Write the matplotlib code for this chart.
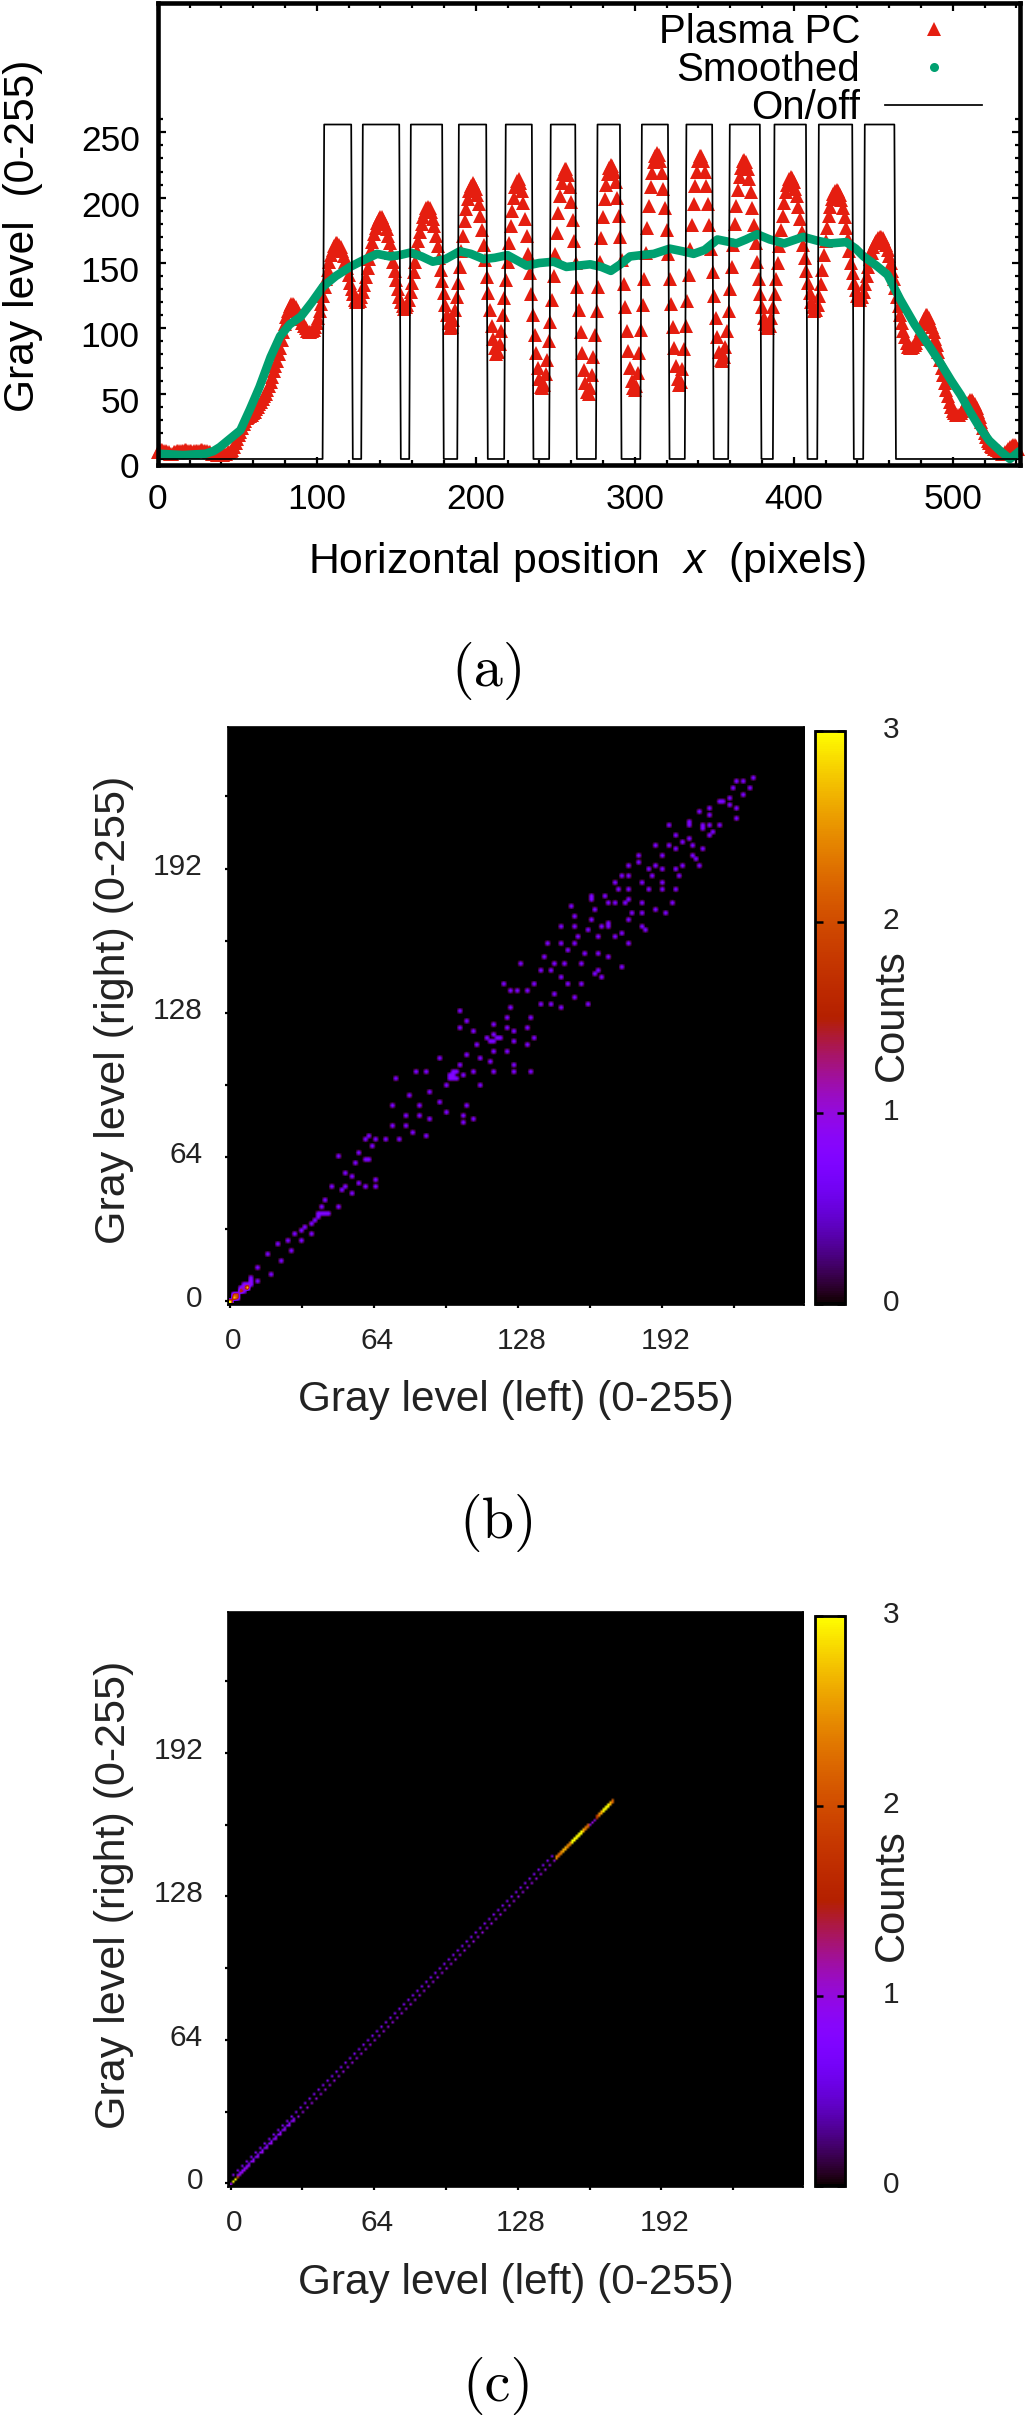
import numpy as np
import matplotlib
matplotlib.use("Agg")
import matplotlib.pyplot as plt
from matplotlib.ticker import MultipleLocator, FixedLocator
from matplotlib.transforms import ScaledTranslation

FIG_W = 1025
FIG_H = 2416

# (a) gray level along the horizontal cut, one value per pixel from x = 0
plasma_gray = [
    5, 6, 7, 7, 6, 6, 5, 5, 4, 4, 5, 5, 6, 6, 6, 6, 6, 7, 7, 6,
    6, 6, 5, 6, 6, 6, 6, 7, 7, 6, 6, 6, 5, 5, 4, 4, 4, 3, 3, 3,
    3, 3, 4, 4, 5, 5, 6, 7, 9, 12, 15, 18, 21, 24, 27, 29, 31, 32, 33, 34,
    35, 36, 38, 40, 42, 44, 46, 48, 50, 53, 56, 59, 63, 67, 71, 75, 80, 85, 91, 97,
    103, 109, 113, 117, 119, 119, 118, 116, 113, 110, 107, 104, 102, 100, 98, 97, 97,
    98, 99, 101, 104, 108, 113, 119, 125, 132, 138, 145, 151, 156, 160, 163, 165,
    165, 164, 162, 159, 155, 151, 146, 141, 135, 130, 126, 122, 120,
    120, 121, 124, 128, 133, 139, 146, 153, 160, 166, 172, 177, 181, 184, 185,
    185, 183, 180, 176, 171, 165, 158, 151, 144, 137, 130, 124, 120, 117, 115,
    116, 118, 122, 128, 135, 143, 151, 159, 167, 174, 180, 185, 189, 192, 193,
    192, 189, 184, 178, 171, 163, 154, 145, 136, 127, 118, 110, 104, 100,
    101, 106, 114, 124, 135, 147, 159, 171, 182, 191, 199, 205, 209, 211,
    210, 207, 202, 195, 186, 175, 164, 152, 139, 127, 114, 102, 92, 85, 80,
    82, 88, 98, 110, 123, 137, 151, 165, 178, 190, 200, 208, 213, 214,
    211, 205, 196, 184, 171, 157, 142, 126, 110, 95, 81, 70, 61, 55, 54,
    57, 65, 76, 90, 105, 122, 140, 157, 173, 188, 201, 211, 218, 222,
    222, 217, 208, 197, 183, 167, 150, 132, 114, 97, 81, 68, 58, 51, 50,
    54, 64, 78, 95, 113, 132, 151, 169, 185, 199, 210, 218, 223, 225,
    224, 220, 212, 200, 186, 170, 152, 134, 116, 98, 83, 70, 60, 54, 53,
    56, 66, 81, 99, 118, 138, 158, 177, 194, 208, 219, 227, 232, 234,
    233, 228, 219, 207, 192, 175, 157, 138, 119, 101, 85, 71, 61, 57,
    59, 69, 84, 102, 121, 141, 161, 179, 195, 209, 220, 228, 232, 232,
    228, 220, 209, 195, 179, 161, 143, 125, 108, 93, 82, 76, 75,
    78, 86, 98, 113, 130, 147, 164, 180, 194, 206, 216, 223, 228, 229,
    227, 222, 214, 204, 192, 179, 165, 151, 138, 126, 116, 108, 103, 100, 100,
    102, 108, 116, 126, 138, 150, 163, 175, 186, 196, 204, 210, 214, 216,
    215, 212, 207, 201, 193, 184, 174, 164, 154, 144, 135, 127, 120, 116, 113,
    114, 118, 125, 134, 145, 156, 167, 177, 186, 193, 199, 203, 205, 206,
    205, 202, 198, 192, 185, 177, 168, 159, 150, 142, 135, 129, 125, 123, 122,
    124, 128, 134, 140, 147, 153, 158, 162, 165, 167, 169, 170, 170,
    169, 167, 164, 160, 155, 150, 144, 138, 131, 124, 117, 110, 104, 98, 93, 89, 86, 85,
    85, 86, 87, 89, 92, 95, 99, 103, 107, 110,
    110, 108, 105, 101, 97, 92, 87, 82, 76, 70, 64, 58, 53, 48, 44, 40, 37, 35, 34, 34,
    34, 35, 37, 39, 41, 43, 44, 45, 45, 44, 42, 39, 36, 32, 28, 24, 20, 17, 14, 12,
    10, 9, 8, 8, 7, 6, 5, 4, 4, 5, 6, 8, 9, 10, 11, 11, 10, 8,
]

smooth_x = [1, 16, 30, 35, 39, 43, 47, 52, 58, 64, 71, 77, 83, 90, 97, 104, 112, 121, 129, 138, 146, 152, 159,
            166, 173, 181, 190, 197, 205, 212, 220, 226, 232, 240, 249, 257, 272, 279, 285, 291, 297, 304, 312,
            322, 330, 337, 344, 352, 364, 370, 377, 385, 394, 406, 415, 423, 433, 439, 444, 452, 459, 467, 476,
            486, 493, 499, 505, 511, 517, 523, 530, 536, 542]
smooth_y = [4, 3, 4, 6, 9, 13, 17, 22, 38, 55, 78, 94, 103, 109, 120, 132, 140, 147, 152, 157, 155, 156, 158,
            155, 151, 153, 159, 157, 153, 154, 156, 152, 148, 150, 151, 147, 149, 147, 144, 149, 155, 156, 157,
            161, 159, 157, 160, 168, 165, 168, 172, 168, 165, 170, 167, 165, 166, 161, 155, 148, 141, 122, 103,
            85, 72, 60, 49, 36, 24, 14, 6, 0, 6]

onoff_rise = [104.2, 128.5, 158.7, 188.9, 218.4, 246.7, 276.1, 304.0, 332.0, 359.3, 387.4, 415.3, 444.2]
onoff_fall = [122.2, 152.4, 179.4, 207.1, 235.8, 263.1, 291.2, 321.4, 349.2, 379.2, 408.2, 437.3, 463.8]
onoff_high = 256
onoff_end = 540

# (b) left/right histogram cells holding one count
b_cells = [
    (13, 10), (9, 11), (19, 13), (12, 16), (23, 18), (17, 21), (28, 23), (21, 26), (32, 27), (26, 28),
    (29, 31), (37, 31), (32, 32), (34, 34), (36, 35), (38, 37), (39, 39), (40, 40), (42, 39), (44, 39),
    (41, 42), (40, 38), (39, 40), (41, 40), (43, 45), (49, 43), (46, 51), (50, 50), (54, 49), (52, 52),
    (51, 58), (54, 56), (55, 56), (57, 53), (56, 62), (60, 52), (65, 52), (65, 54), (60, 64), (62, 64),
    (58, 67), (64, 69), (49, 65), (60, 72), (62, 74), (65, 73),
    (69, 72), (76, 72), (88, 74), (82, 76), (72, 79), (79, 79), (89, 82), (84, 83), (72, 87), (79, 83),
    (85, 88), (94, 89), (97, 85), (104, 83), (104, 80), (106, 87), (108, 82), (80, 92), (89, 94), (74, 100),
    (83, 103), (88, 102), (93, 109), (97, 96), (98, 100), (100, 102), (102, 105), (101, 99), (104, 101),
    (109, 102), (112, 96), (106, 110), (111, 108), (116, 107), (118, 103), (126, 105), (126, 103), (134, 103),
    (117, 111), (123, 111), (132, 115), (136, 117), (110, 115), (115, 117), (118, 119), (120, 117), (126, 116),
    (109, 121), (102, 122), (118, 124), (123, 122), (126, 121), (134, 126), (133, 122), (103, 129), (105, 125),
    (125, 131), (123, 127), (122, 142), (132, 138), (125, 138), (128, 138), (130, 151), (136, 142),
    (99, 100), (100, 101), (101, 102), (100, 99), (98, 101), (116, 116), (119, 118), (117, 119), (118, 116),
    (115, 118),
    (138, 133), (147, 131), (145, 137), (159, 133), (154, 135), (143, 132), (138, 147), (143, 148), (140, 153),
    (145, 151), (149, 150), (156, 150), (150, 156), (158, 155), (164, 155), (168, 154), (164, 147), (165, 144),
    (175, 149), (142, 160), (154, 159), (155, 162), (147, 159), (164, 163), (172, 162), (175, 164), (178, 159),
    (148, 167), (153, 167), (159, 166), (168, 167), (161, 170), (178, 170), (185, 165), (184, 167), (153, 172),
    (179, 173), (152, 176), (162, 174), (171, 177), (168, 178), (161, 179), (161, 181), (172, 178), (176, 178),
    (178, 179), (184, 178), (184, 173), (189, 175), (194, 173), (197, 178), (167, 181), (173, 183), (178, 184),
    (186, 183), (192, 183), (198, 183), (171, 187), (178, 190), (184, 187), (193, 187), (200, 189), (175, 190),
    (177, 194), (186, 192), (188, 190), (189, 194), (192, 192), (199, 192), (201, 194), (182, 199), (182, 195),
    (190, 203), (195, 203), (192, 198), (198, 201), (209, 194), (207, 197), (206, 199), (206, 203), (210, 201),
    (202, 204), (204, 206), (195, 212), (199, 208), (210, 210), (214, 207), (215, 209), (213, 212), (211, 212),
    (218, 212), (204, 212), (205, 214), (209, 218), (214, 220), (213, 216), (218, 222), (222, 224), (223, 221),
    (226, 220), (226, 215), (220, 222), (224, 229), (229, 226), (231, 229), (229, 232), (233, 233), (226, 232),
    (147, 144), (151, 142), (156, 142), (163, 146), (166, 167), (169, 168),
]
b_cell_level = 0.8
# cells near the dark end, with their counts
b_low_cells = [(1, 1), (2, 2), (3, 3), (2, 3), (3, 2), (4, 4), (5, 5), (5, 6), (6, 5), (6, 6),
               (7, 7), (8, 7), (8, 8), (7, 8), (9, 9), (6, 8), (9, 8)]
b_low_counts = [3, 3, 2, 2, 2, 2, 2, 1, 1, 1, 1, 3, 1, 1, 1, 1, 1]

# (c) two close diagonals of single counts, then the saturated stretch near the top
c_main = [0, 2, 4, 6, 8, 10, 12, 14, 16, 18, 20, 22, 24, 26, 28, 30, 32, 34, 36, 38, 40, 42, 44, 46, 48,
          50, 52, 54, 56, 58, 60, 62, 64, 66, 68, 70, 72, 74, 76, 78, 80, 82, 84, 86, 88, 90, 92, 94, 96,
          98, 100, 102, 104, 106, 108, 110, 112, 114, 116, 118, 120, 122, 124, 126, 128, 130, 132, 134,
          136, 138, 140, 142, 144, 160, 161, 162]
c_side = [1, 3, 5, 7, 9, 11, 13, 15, 17, 19, 21, 23, 25, 27, 29, 31, 33, 35, 37, 39, 41, 43, 45, 47, 49,
          51, 53, 55, 57, 59, 61, 63, 65, 67, 69, 71, 73, 75, 77, 79, 81, 83, 85, 87, 89, 91, 93, 95, 97,
          99, 101, 103, 105, 107, 109, 111, 113, 115, 117, 119, 121, 123, 125, 127, 129, 131, 133, 135,
          137, 139, 141, 143]
c_hot = [145, 146, 147, 148, 149, 150, 151, 152, 153, 154, 155, 156, 157, 158, 159, 163, 164, 165, 166, 167,
         168, 169, 170]
c_hot_counts = [2.4, 2.2, 2.4, 2.6, 2.6, 2.4, 2.4, 3, 3, 3, 3, 3, 2.6, 2.3, 2.2, 1.8, 2.4, 2.6, 3, 3, 3, 2.6, 2.2]
c_low = [1, 2, 3, 4, 5, 6, 7]
c_low_counts = [3, 3, 2, 1, 1, 1, 1]
# the diagonals merge into one broad band near the dark end
c_band = [3, 4, 5, 6, 7, 8, 9, 10, 11, 12, 13, 14, 15, 16, 17, 18, 19, 20, 21, 22, 23, 24, 25, 26, 27, 28]
c_band_level = 0.75

RED = "#e51e10"
GREEN = "#00a070"
SANS = ["Liberation Sans", "DejaVu Sans"]

plt.rcParams["font.family"] = SANS
plt.rcParams["mathtext.fontset"] = "custom"
plt.rcParams["mathtext.it"] = "Liberation Sans:italic"
plt.rcParams["mathtext.rm"] = "Liberation Sans"

fig = plt.figure(figsize=(FIG_W / 100, FIG_H / 100), dpi=100, facecolor="white")


def px_axes(left, top, right, bottom):
    """Axes placed by pixel edges, measured from the top left of the figure."""
    return fig.add_axes([left / FIG_W, 1 - bottom / FIG_H, (right - left) / FIG_W, (bottom - top) / FIG_H])


def px_text(x, y, s, **kw):
    kw.setdefault("ha", "center")
    kw.setdefault("va", "center")
    return fig.text(x / FIG_W, 1 - y / FIG_H, s, **kw)


def shift_labels(labels, dx, dy):
    offset = ScaledTranslation(dx / 100, dy / 100, fig.dpi_scale_trans)
    for lab in labels:
        lab.set_transform(lab.get_transform() + offset)


def draw_profile():
    ax = px_axes(157.7, 3, 1019.5, 465)
    x_plasma = np.arange(len(plasma_gray))
    ax.plot(x_plasma, plasma_gray, ls="none", marker="^", ms=9.4, mew=0, color=RED, zorder=2,
            clip_on=False, label="Plasma PC")
    ax.plot(smooth_x, smooth_y, color=GREEN, lw=6.2, solid_joinstyle="round", solid_capstyle="round", zorder=3)
    ax.plot([], [], ls="none", marker="o", ms=6.5, mew=0, color=GREEN, label="Smoothed")

    # square wave of the on/off pattern, each edge one pixel wide
    wave_x = [0]
    wave_y = [0]
    for rise, fall in zip(onoff_rise, onoff_fall):
        wave_x += [rise - 0.5, rise + 0.5, fall - 0.5, fall + 0.5]
        wave_y += [0, onoff_high, onoff_high, 0]
    wave_x.append(onoff_end)
    wave_y.append(0)
    ax.plot(wave_x, wave_y, color="black", lw=1.25, zorder=4, label="On/off")

    ax.set_xlim(0, 542)
    ax.set_ylim(-4.6, 349)
    ax.xaxis.set_major_locator(MultipleLocator(100))
    ax.xaxis.set_minor_locator(MultipleLocator(20))
    ax.yaxis.set_major_locator(FixedLocator([0, 50, 100, 150, 200, 250]))
    ax.yaxis.set_minor_locator(FixedLocator([10, 20, 30, 40, 60, 70, 80, 90, 110, 120, 130, 140, 160, 170, 180,
                                             190, 210, 220, 230, 240, 260]))
    ax.tick_params(which="both", direction="in", top=True, right=True, width=1.6)
    ax.tick_params(which="major", length=6, labelsize=25.5)
    ax.tick_params(which="minor", length=3.5)
    ax.tick_params(axis="y", which="major", pad=13)
    ax.tick_params(axis="x", which="major", pad=13)
    for spine in ax.spines.values():
        spine.set_linewidth(3.3)
        spine.set_zorder(5)
    fig.canvas.draw()
    shift_labels(ax.get_yticklabels(), 0, -6)

    ax.legend(loc="upper right", frameon=False, markerfirst=False, fontsize=29, handlelength=2.4,
              handletextpad=0.62, labelspacing=0.0, borderaxespad=0.0, borderpad=0.0,
              bbox_to_anchor=((982 - 157.7) / (1019.5 - 157.7), 1.0 - 10 / 462))

    px_text(23, 236, "Gray level  (0-255)", rotation=90, fontsize=30.7)
    px_text(587, 562, "Horizontal position  $x$  (pixels)", fontsize=30.8)
    px_text(489, 671, "(a)", family="cmr10", fontsize=42)


def draw_histogram(left, top, right, bottom, cbar_top, counts, xlab_y, ylab_y, cnt_y, caption, caption_y):
    ax = px_axes(left, top, right, bottom)
    ax.set_facecolor("black")
    im = ax.imshow(counts, origin="lower", extent=(-0.5, 255.5, -0.5, 255.5), cmap="gnuplot", vmin=0, vmax=3,
                   interpolation="bilinear", aspect="auto")
    ax.set_xlim(-1.2, 255.2)
    ax.set_ylim(-1.6, 254.8)
    ax.xaxis.set_major_locator(MultipleLocator(64))
    ax.xaxis.set_minor_locator(MultipleLocator(32))
    ax.yaxis.set_major_locator(MultipleLocator(64))
    ax.yaxis.set_minor_locator(MultipleLocator(32))
    ax.set_xticks([0, 64, 128, 192])
    ax.set_yticks([0, 64, 128, 192])
    ax.tick_params(which="both", direction="out", length=2, width=1.6, color="black")
    ax.tick_params(axis="x", which="major", labelsize=21.5, pad=14, labelcolor="#222222")
    ax.tick_params(axis="y", which="major", labelsize=21.5, pad=16, labelcolor="#222222")
    for spine in ax.spines.values():
        spine.set_linewidth(1.2)
    fig.canvas.draw()
    shift_labels(ax.get_xticklabels(), 3, 0)
    shift_labels(ax.get_yticklabels(), 0, 5)

    cax = px_axes(815, cbar_top, 845, bottom - 1)
    cb = fig.colorbar(im, cax=cax, ticks=[0, 1, 2, 3])
    cb.outline.set_linewidth(2.0)
    cb.ax.tick_params(direction="in", length=5.5, width=1.8, left=True, right=True, labelsize=21.5, pad=27,
                      labelcolor="#222222")
    shift_labels(cb.ax.get_yticklabels(), 0, 4)

    px_text(516, xlab_y, "Gray level (left) (0-255)", fontsize=30.5, color="#222222")
    px_text(114, ylab_y, "Gray level (right) (0-255)", rotation=90, fontsize=31, color="#222222")
    px_text(892, cnt_y, "Counts", rotation=90, fontsize=30, color="#222222")
    px_text(498, caption_y, caption, family="cmr10", fontsize=42)


# panel (b) histogram, 1.5 gray levels to a bin
B_BINS = 171
b_counts = np.zeros((B_BINS, B_BINS))
b_left, b_right = zip(*b_cells)
np.maximum.at(b_counts, (np.array(b_right) * 2 // 3, np.array(b_left) * 2 // 3), b_cell_level)
b_low_left, b_low_right = zip(*b_low_cells)
np.maximum.at(b_counts, (np.array(b_low_right) * 2 // 3, np.array(b_low_left) * 2 // 3), b_low_counts)

# panel (c) histogram, one gray level to a bin
c_counts = np.zeros((256, 256))
c_counts[c_main, c_main] = 1
c_counts[[v + 3 for v in c_side], c_side] = 0.8
c_counts[[v + 1 for v in c_band], c_band] = c_band_level
c_counts[c_hot, c_hot] = c_hot_counts
c_counts[[v + 1 for v in c_hot], c_hot] = c_hot_counts
c_counts[c_low, c_low] = c_low_counts

draw_profile()
draw_histogram(227.6, 727, 804.5, 1305, 730.6, b_counts, 1400, 1010, 1015, "(b)", 1523)
draw_histogram(228, 1612, 803, 2187, 1616, c_counts, 2283, 1895, 1895, "(c)", 2386)

fig.savefig("out.png", dpi=100, facecolor="white")
plt.close(fig)
